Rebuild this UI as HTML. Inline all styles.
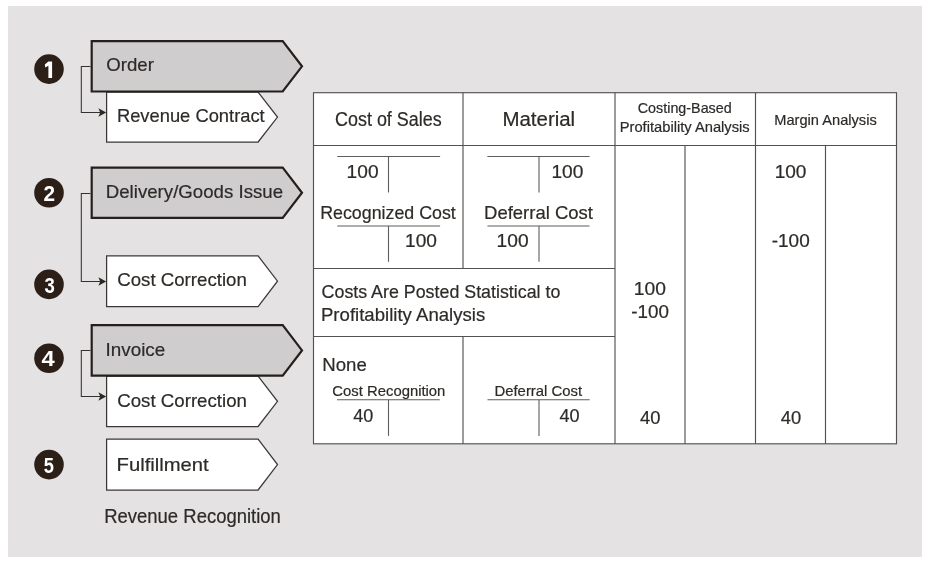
<!DOCTYPE html>
<html><head><meta charset="utf-8"><style>
html,body{margin:0;padding:0;background:#ffffff;width:928px;height:564px;overflow:hidden}
svg{display:block;font-family:"Liberation Sans", sans-serif;will-change:transform}
</style></head><body>
<svg width="928" height="564" viewBox="0 0 928 564">
<rect x="8" y="6" width="914" height="551" fill="#e4e2e3"/>
<circle cx="49" cy="69.1" r="14.8" fill="#2b1f17"/>
<circle cx="49" cy="192.8" r="14.8" fill="#2b1f17"/>
<circle cx="49" cy="284.4" r="14.8" fill="#2b1f17"/>
<circle cx="49" cy="358.3" r="14.8" fill="#2b1f17"/>
<circle cx="49" cy="464.6" r="14.8" fill="#2b1f17"/>
<path d="M106.6 92.2 H258.1 L277.5 117.1 L258.1 142.0 H106.6 Z" fill="#ffffff" stroke="#3b3835" stroke-width="1.25"/>
<path d="M106.6 255.8 H258.1 L277.5 281.20000000000005 L258.1 306.6 H106.6 Z" fill="#ffffff" stroke="#3b3835" stroke-width="1.25"/>
<path d="M106.6 376.2 H258.1 L277.5 401.35 L258.1 426.5 H106.6 Z" fill="#ffffff" stroke="#3b3835" stroke-width="1.25"/>
<path d="M106.6 439.2 H258.1 L277.5 464.6 L258.1 490 H106.6 Z" fill="#ffffff" stroke="#3b3835" stroke-width="1.25"/>
<path d="M91.7 41.2 H282.7 L302 66.35 L282.7 91.5 H91.7 Z" fill="#cfcdce" stroke="#231f1c" stroke-width="2.2" stroke-linejoin="miter"/>
<path d="M91.7 167.7 H282.7 L302 192.75 L282.7 217.8 H91.7 Z" fill="#cfcdce" stroke="#231f1c" stroke-width="2.2" stroke-linejoin="miter"/>
<path d="M91.7 325.2 H282.7 L302 350.4 L282.7 375.6 H91.7 Z" fill="#cfcdce" stroke="#231f1c" stroke-width="2.2" stroke-linejoin="miter"/>
<path d="M90.5 66.5 H81.3 V112.5 H101" fill="none" stroke="#34312f" stroke-width="1.05"/><path d="M106.2 112.5 L98.4 108.2 L100.2 112.5 L98.4 116.8 Z" fill="#2b2826"/>
<path d="M90.5 193.4 H81.3 V281.5 H101" fill="none" stroke="#34312f" stroke-width="1.05"/><path d="M106.2 281.5 L98.4 277.2 L100.2 281.5 L98.4 285.8 Z" fill="#2b2826"/>
<path d="M90.5 350.5 H81.3 V396.5 H101" fill="none" stroke="#34312f" stroke-width="1.05"/><path d="M106.2 396.5 L98.4 392.2 L100.2 396.5 L98.4 400.8 Z" fill="#2b2826"/>
<rect x="313.5" y="92.7" width="583.0" height="351.1" fill="#ffffff" stroke="#54524f" stroke-width="1.15"/>
<line x1="313.5" y1="145.5" x2="896.5" y2="145.5" stroke="#54524f" stroke-width="1.15"/>
<line x1="463.0" y1="92.7" x2="463.0" y2="268.5" stroke="#54524f" stroke-width="1.15"/>
<line x1="463.0" y1="336.5" x2="463.0" y2="443.8" stroke="#54524f" stroke-width="1.15"/>
<line x1="615.0" y1="92.7" x2="615.0" y2="443.8" stroke="#54524f" stroke-width="1.15"/>
<line x1="685.0" y1="145.5" x2="685.0" y2="443.8" stroke="#54524f" stroke-width="1.15"/>
<line x1="755.5" y1="92.7" x2="755.5" y2="443.8" stroke="#54524f" stroke-width="1.15"/>
<line x1="825.5" y1="145.5" x2="825.5" y2="443.8" stroke="#54524f" stroke-width="1.15"/>
<line x1="313.5" y1="268.5" x2="615.0" y2="268.5" stroke="#54524f" stroke-width="1.15"/>
<line x1="313.5" y1="336.5" x2="615.0" y2="336.5" stroke="#54524f" stroke-width="1.15"/>
<line x1="337.3" y1="156.5" x2="440.1" y2="156.5" stroke="#5f5d5b" stroke-width="1.1"/>
<line x1="388.5" y1="156.5" x2="388.5" y2="192.5" stroke="#5f5d5b" stroke-width="1.1"/>
<line x1="337.3" y1="226.0" x2="440.1" y2="226.0" stroke="#5f5d5b" stroke-width="1.1"/>
<line x1="388.5" y1="226.0" x2="388.5" y2="261.8" stroke="#5f5d5b" stroke-width="1.1"/>
<line x1="487.4" y1="156.5" x2="589.5" y2="156.5" stroke="#5f5d5b" stroke-width="1.1"/>
<line x1="539.0" y1="156.5" x2="539.0" y2="192.5" stroke="#5f5d5b" stroke-width="1.1"/>
<line x1="487.4" y1="226.0" x2="589.5" y2="226.0" stroke="#5f5d5b" stroke-width="1.1"/>
<line x1="539.0" y1="226.0" x2="539.0" y2="261.8" stroke="#5f5d5b" stroke-width="1.1"/>
<line x1="337" y1="399.8" x2="439.8" y2="399.8" stroke="#5f5d5b" stroke-width="1.1"/>
<line x1="388.5" y1="399.8" x2="388.5" y2="435.9" stroke="#5f5d5b" stroke-width="1.1"/>
<line x1="487.5" y1="399.8" x2="589.7" y2="399.8" stroke="#5f5d5b" stroke-width="1.1"/>
<line x1="539.0" y1="399.8" x2="539.0" y2="435.9" stroke="#5f5d5b" stroke-width="1.1"/>
<text x="106.32" y="70.90" font-size="19" fill="#2d2a27" stroke="#2d2a27" stroke-width="0.2" textLength="47.59" lengthAdjust="spacingAndGlyphs">Order</text>
<text x="116.90" y="121.90" font-size="19" fill="#2d2a27" stroke="#2d2a27" stroke-width="0.2" textLength="147.84" lengthAdjust="spacingAndGlyphs">Revenue Contract</text>
<text x="105.77" y="198.10" font-size="19" fill="#2d2a27" stroke="#2d2a27" stroke-width="0.2" textLength="177.26" lengthAdjust="spacingAndGlyphs">Delivery/Goods Issue</text>
<text x="117.25" y="286.30" font-size="19" fill="#2d2a27" stroke="#2d2a27" stroke-width="0.2" textLength="129.56" lengthAdjust="spacingAndGlyphs">Cost Correction</text>
<text x="105.56" y="355.70" font-size="19" fill="#2d2a27" stroke="#2d2a27" stroke-width="0.2" textLength="59.67" lengthAdjust="spacingAndGlyphs">Invoice</text>
<text x="117.25" y="406.80" font-size="19" fill="#2d2a27" stroke="#2d2a27" stroke-width="0.2" textLength="129.66" lengthAdjust="spacingAndGlyphs">Cost Correction</text>
<text x="116.54" y="470.60" font-size="19" fill="#2d2a27" stroke="#2d2a27" stroke-width="0.2" textLength="92.21" lengthAdjust="spacingAndGlyphs">Fulfillment</text>
<text x="104.18" y="522.60" font-size="19.5" fill="#2d2a27" stroke="#2d2a27" stroke-width="0.2" textLength="176.72" lengthAdjust="spacingAndGlyphs">Revenue Recognition</text>
<text x="335.09" y="125.50" font-size="19.5" fill="#2d2a27" stroke="#2d2a27" stroke-width="0.2" textLength="106.56" lengthAdjust="spacingAndGlyphs">Cost of Sales</text>
<text x="502.42" y="125.60" font-size="19.5" fill="#2d2a27" stroke="#2d2a27" stroke-width="0.2" textLength="72.75" lengthAdjust="spacingAndGlyphs">Material</text>
<text x="637.77" y="112.80" font-size="15" fill="#2d2a27" stroke="#2d2a27" stroke-width="0.2" textLength="93.95" lengthAdjust="spacingAndGlyphs">Costing-Based</text>
<text x="619.70" y="131.70" font-size="15" fill="#2d2a27" stroke="#2d2a27" stroke-width="0.2" textLength="130.03" lengthAdjust="spacingAndGlyphs">Profitability Analysis</text>
<text x="774.31" y="125.20" font-size="15" fill="#2d2a27" stroke="#2d2a27" stroke-width="0.2" textLength="102.41" lengthAdjust="spacingAndGlyphs">Margin Analysis</text>
<text x="346.64" y="178.20" font-size="17.5" fill="#2d2a27" stroke="#2d2a27" stroke-width="0.2" textLength="31.90" lengthAdjust="spacingAndGlyphs">100</text>
<text x="320.14" y="218.50" font-size="19" fill="#2d2a27" stroke="#2d2a27" stroke-width="0.2" textLength="135.69" lengthAdjust="spacingAndGlyphs">Recognized Cost</text>
<text x="405.04" y="247.40" font-size="17.5" fill="#2d2a27" stroke="#2d2a27" stroke-width="0.2" textLength="31.90" lengthAdjust="spacingAndGlyphs">100</text>
<text x="551.44" y="178.20" font-size="17.5" fill="#2d2a27" stroke="#2d2a27" stroke-width="0.2" textLength="31.90" lengthAdjust="spacingAndGlyphs">100</text>
<text x="484.08" y="218.50" font-size="19" fill="#2d2a27" stroke="#2d2a27" stroke-width="0.2" textLength="108.85" lengthAdjust="spacingAndGlyphs">Deferral Cost</text>
<text x="496.64" y="247.40" font-size="17.5" fill="#2d2a27" stroke="#2d2a27" stroke-width="0.2" textLength="32.01" lengthAdjust="spacingAndGlyphs">100</text>
<text x="774.65" y="178.00" font-size="17.5" fill="#2d2a27" stroke="#2d2a27" stroke-width="0.2" textLength="31.80" lengthAdjust="spacingAndGlyphs">100</text>
<text x="771.76" y="247.20" font-size="17.5" fill="#2d2a27" stroke="#2d2a27" stroke-width="0.2" textLength="37.98" lengthAdjust="spacingAndGlyphs">-100</text>
<text x="633.83" y="294.90" font-size="17.5" fill="#2d2a27" stroke="#2d2a27" stroke-width="0.2" textLength="32.12" lengthAdjust="spacingAndGlyphs">100</text>
<text x="631.26" y="318.10" font-size="17.5" fill="#2d2a27" stroke="#2d2a27" stroke-width="0.2" textLength="37.67" lengthAdjust="spacingAndGlyphs">-100</text>
<text x="640.08" y="424.10" font-size="17.5" fill="#2d2a27" stroke="#2d2a27" stroke-width="0.2" textLength="20.44" lengthAdjust="spacingAndGlyphs">40</text>
<text x="780.78" y="424.10" font-size="17.5" fill="#2d2a27" stroke="#2d2a27" stroke-width="0.2" textLength="20.44" lengthAdjust="spacingAndGlyphs">40</text>
<text x="321.60" y="297.50" font-size="19" fill="#2d2a27" stroke="#2d2a27" stroke-width="0.2" textLength="238.75" lengthAdjust="spacingAndGlyphs">Costs Are Posted Statistical to</text>
<text x="320.98" y="320.70" font-size="19" fill="#2d2a27" stroke="#2d2a27" stroke-width="0.2" textLength="164.28" lengthAdjust="spacingAndGlyphs">Profitability Analysis</text>
<text x="322.27" y="370.70" font-size="18.8" fill="#2d2a27" stroke="#2d2a27" stroke-width="0.2" textLength="44.56" lengthAdjust="spacingAndGlyphs">None</text>
<text x="332.35" y="396.10" font-size="14.5" fill="#2d2a27" stroke="#2d2a27" stroke-width="0.2" textLength="113.02" lengthAdjust="spacingAndGlyphs">Cost Recognition</text>
<text x="353.19" y="421.50" font-size="17.5" fill="#2d2a27" stroke="#2d2a27" stroke-width="0.2" textLength="20.02" lengthAdjust="spacingAndGlyphs">40</text>
<text x="494.48" y="396.10" font-size="14.5" fill="#2d2a27" stroke="#2d2a27" stroke-width="0.2" textLength="87.63" lengthAdjust="spacingAndGlyphs">Deferral Cost</text>
<text x="559.48" y="421.50" font-size="17.5" fill="#2d2a27" stroke="#2d2a27" stroke-width="0.2" textLength="20.12" lengthAdjust="spacingAndGlyphs">40</text>
<text x="43.58" y="201.00" font-size="22.5" font-weight="bold" fill="#ffffff" textLength="11.55" lengthAdjust="spacingAndGlyphs">2</text>
<text x="44.38" y="292.80" font-size="22.5" font-weight="bold" fill="#ffffff" textLength="10.29" lengthAdjust="spacingAndGlyphs">3</text>
<text x="41.54" y="366.00" font-size="22.5" font-weight="bold" fill="#ffffff" textLength="13.19" lengthAdjust="spacingAndGlyphs">4</text>
<text x="43.74" y="473.00" font-size="22.5" font-weight="bold" fill="#ffffff" textLength="10.17" lengthAdjust="spacingAndGlyphs">5</text>
<path d="M48.4 61.6 H52.1 V78 H48.4 V65.8 L45.3 67.6 L44.8 64.6 Z" fill="#ffffff"/>
</svg>
</body></html>
